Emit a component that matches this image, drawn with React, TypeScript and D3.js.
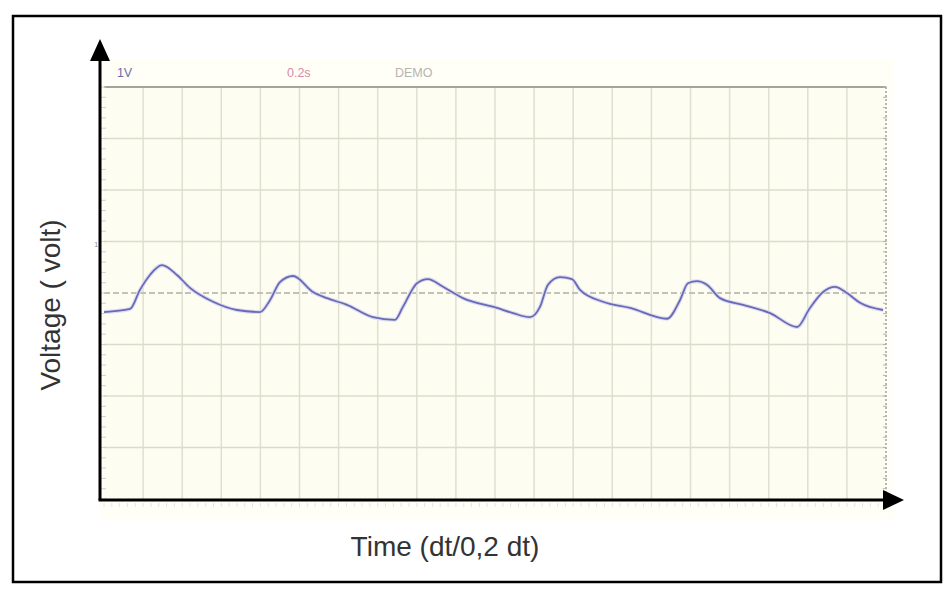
import { useMemo } from 'react'
import * as d3 from 'd3'

// Waveform: time in seconds (0.2 s / div), voltage in volts (1 V / div)
const timeSec = [
  0.0, 0.133, 0.184, 0.235, 0.297, 0.373, 0.44, 0.558, 0.68, 0.798,
  0.849, 0.9, 0.967, 1.069, 1.141, 1.243, 1.376, 1.488, 1.529, 1.601,
  1.657, 1.734, 1.836, 2.01, 2.092, 2.179, 2.23, 2.271, 2.332, 2.394,
  2.435, 2.552, 2.691, 2.88, 2.946, 2.987, 3.033, 3.084, 3.151, 3.269,
  3.407, 3.545, 3.611, 3.678, 3.739, 3.8, 3.867, 3.985,
]
const voltage = [
  -0.37, -0.31, 0.06, 0.35, 0.54, 0.35, 0.1, -0.17, -0.33, -0.37,
  -0.14, 0.21, 0.33, 0.02, -0.1, -0.23, -0.47, -0.52, -0.27, 0.19,
  0.27, 0.12, -0.1, -0.29, -0.39, -0.47, -0.27, 0.16, 0.31, 0.27,
  0.06, -0.17, -0.29, -0.5, -0.14, 0.19, 0.23, 0.16, -0.1, -0.23,
  -0.39, -0.66, -0.29, 0.02, 0.12, 0.0, -0.19, -0.33,
]

const headerLabels = [
  { text: '1V', at: 0.066, color: '#6c6ca8' },
  { text: '0.2s', at: 0.936, color: '#d88aa4' },
  { text: 'DEMO', at: 1.488, color: '#b4b4b4' },
]

const W = 947
const H = 591
const margin = { left: 104, right: 61, top: 87, bottom: 92 }
const font = '"Liberation Sans", Arial, sans-serif'

export default function App() {
  const x = d3.scaleLinear().domain([0, 4]).range([margin.left, W - margin.right])
  const y = d3.scaleLinear().domain([-4, 4]).range([H - margin.bottom, margin.top])

  const points = useMemo(() => timeSec.map((t, i) => [t, voltage[i]] as [number, number]), [])
  const line = d3.line<[number, number]>()
    .x(d => x(d[0]))
    .y(d => y(d[1]))
    .curve(d3.curveMonotoneX)

  const vGrid = d3.range(1, 20).map(i => i * 0.2)
  const hGrid = d3.range(-3, 4)
  const minorY = d3.range(-4, 4.01, 0.2)
  const minorX = d3.range(0, 4.001, 0.04)

  const axisX = 100
  const axisY = y(-4) + 1
  const x0 = x(0), x1 = x(4), y0 = y(-4), y1 = y(4)

  return (
    <svg width={W} height={H} style={{ position: 'absolute', left: 0, top: 0, background: '#fff' }}>
      <rect x={13} y={16} width={928} height={566} fill="#fff" stroke="#000" strokeWidth={2.5} />

      {/* cream screen */}
      <rect x={axisX} y={58} width={x1 - axisX + 8} height={axisY - 58 + 20} fill="#fffff7" />
      <rect x={x0} y={y1} width={x1 - x0} height={y0 - y1} fill="#fdfdf1" />

      {/* grid */}
      {vGrid.map(v => (
        <line key={'v' + v} x1={x(v)} x2={x(v)} y1={y1} y2={y0} stroke="#e0e0d0" strokeWidth={1.5} />
      ))}
      {hGrid.map(v => (
        <line key={'h' + v} x1={x0} x2={x1} y1={y(v)} y2={y(v)}
          stroke={v === 0 ? '#c2c2b6' : '#dcdccc'} strokeWidth={v === 0 ? 2 : 1.5}
          strokeDasharray={v === 0 ? '6,3' : undefined} />
      ))}
      <line x1={x0} x2={x1} y1={y1} y2={y1} stroke="#a4a49c" strokeWidth={2} />
      <line x1={x1} x2={x1} y1={y1} y2={y0} stroke="#a0a0a0" strokeWidth={1.5} strokeDasharray="2,2" />

      {/* minor ticks */}
      {minorY.map(v => (
        <line key={'my' + v} x1={axisX + 1} x2={axisX + 6} y1={y(v)} y2={y(v)} stroke="#d0d0d0" strokeWidth={1} />
      ))}
      {minorY.map(v => (
        <line key={'mr' + v} x1={x1 - 3} x2={x1 + 1} y1={y(v)} y2={y(v)} stroke="#b4b4b4" strokeWidth={1} />
      ))}
      {minorX.map(v => (
        <line key={'mx' + v} x1={x(v)} x2={x(v)} y1={axisY + 3} y2={axisY + 7} stroke="#e4e4e4" strokeWidth={1} />
      ))}

      {/* header labels */}
      {headerLabels.map(l => (
        <text key={l.text} x={x(l.at)} y={77} fontFamily={font} fontSize={12.5} fill={l.color}>{l.text}</text>
      ))}
      <text x={94} y={247} fontFamily={font} fontSize={8} fill="#999">1</text>

      {/* waveform */}
      <path d={line(points) ?? ''} fill="none" stroke="#dcdcf2" strokeWidth={4} />
      <path d={line(points) ?? ''} fill="none" stroke="#6a6ab4" strokeWidth={1.8} />

      {/* axes */}
      <line x1={axisX} x2={axisX} y1={axisY} y2={56} stroke="#000" strokeWidth={3} />
      <path d={`M${axisX},39 L${axisX - 10},61 L${axisX + 10},61 Z`} fill="#000" />
      <line x1={axisX - 1.5} x2={885} y1={axisY} y2={axisY} stroke="#000" strokeWidth={3} />
      <path d={`M904,${axisY} L883,${axisY - 10} L883,${axisY + 10} Z`} fill="#000" />

      {/* titles */}
      <text x={445} y={556} textAnchor="middle" fontFamily={font} fontSize={28} fill="#333">Time (dt/0,2 dt)</text>
      <text transform="translate(60,305) rotate(-90)" textAnchor="middle"
        fontFamily={font} fontSize={28} fill="#333">Voltage ( volt)</text>
    </svg>
  )
}
